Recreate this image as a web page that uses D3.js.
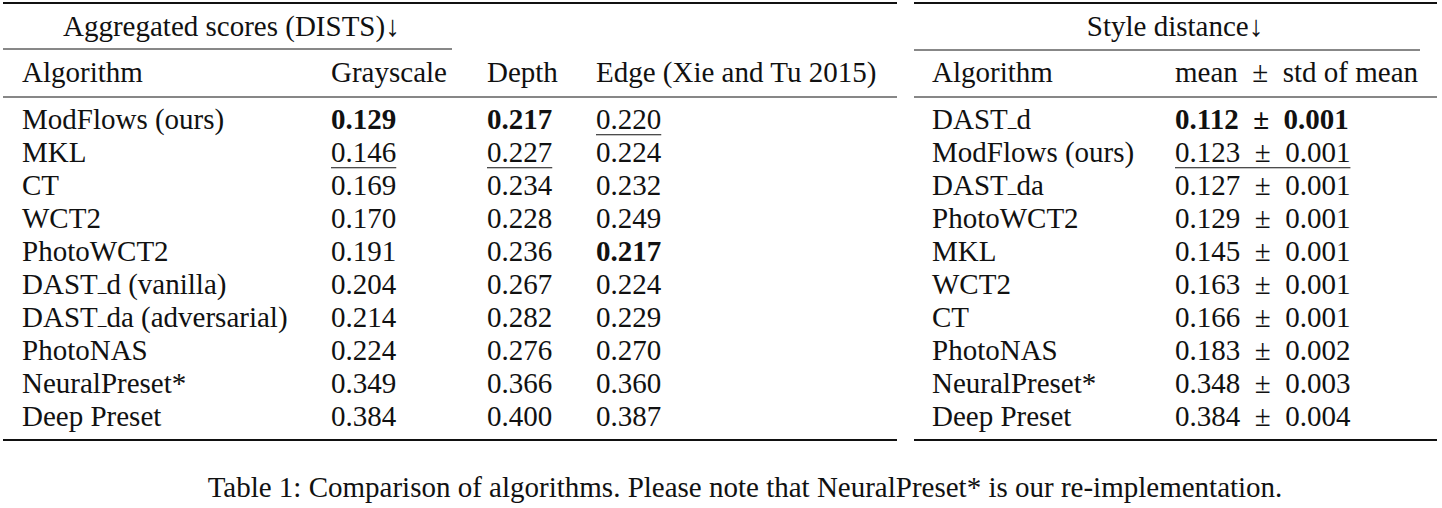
<!DOCTYPE html>
<html><head><meta charset="utf-8">
<script src="https://cdn.jsdelivr.net/npm/d3@7"></script>
<style>body{margin:0;background:#fff}text{font-family:"Liberation Serif","DejaVu Serif",serif;fill:#111}</style>
</head><body><svg id="c" width="1442" height="508"></svg>
<script>
const leftAlgos=["ModFlows (ours)","MKL","CT","WCT2","PhotoWCT2","DAST_d (vanilla)","DAST_da (adversarial)","PhotoNAS","NeuralPreset*","Deep Preset"];
const grayscale=[0.129,0.146,0.169,0.170,0.191,0.204,0.214,0.224,0.349,0.384];
const depth=[0.217,0.227,0.234,0.228,0.236,0.267,0.282,0.276,0.366,0.400];
const edge=[0.220,0.224,0.232,0.249,0.217,0.224,0.229,0.270,0.360,0.387];
const rightAlgos=["DAST_d","ModFlows (ours)","DAST_da","PhotoWCT2","MKL","WCT2","CT","PhotoNAS","NeuralPreset*","Deep Preset"];
const styleMean=[0.112,0.123,0.127,0.129,0.145,0.163,0.166,0.183,0.348,0.384];
const styleStd=[0.001,0.001,0.001,0.001,0.001,0.001,0.001,0.002,0.003,0.004];
const leftHeaders=["Algorithm","Grayscale","Depth","Edge (Xie and Tu 2015)"];
const rightHeaders=["Algorithm","mean\u2002\u00b1\u2002std of mean"];

const svg=d3.select("#c");
const FS=29;
const y=d3.scaleBand().domain(d3.range(10)).range([103,433]);
const base=i=>y(i)+y.bandwidth()*0.78;
const line=(x1,x2,yy,w)=>svg.append("line").attr("x1",x1).attr("x2",x2).attr("y1",yy).attr("y2",yy).attr("stroke","#111").attr("stroke-width",w);
function txt(x,yy,s,bold,anchor){return svg.append("text").attr("x",x).attr("y",yy).attr("font-size",FS).attr("font-weight",bold?"bold":"normal").attr("text-anchor",anchor||"start").text(s);}
function algo(x,yy,s){
  const t=svg.append("text").attr("x",x).attr("y",yy).attr("font-size",FS);
  s.split("_").forEach((p,k)=>{
    if(k>0) t.append("tspan").attr("font-size",FS*0.6).attr("dy",3).text("\u2013");
    t.append("tspan").attr("dy",k>0?-3:0).attr("font-size",FS).text(p);});
}
const fmt=d3.format(".3f");

const lx=[22,331,487,596];
line(3,897,3,2.2); line(3,452,49,1); line(3,897,97,1.2); line(3,897,440,2.2);
txt(63,36,"Aggregated scores (DISTS)\u2193");
leftHeaders.forEach((h,i)=>txt(lx[i],82,h));
const minIdx=a=>a.indexOf(d3.min(a));
const secIdx=a=>{const s=[...a].sort((p,q)=>p-q);return a.indexOf(s.find(v=>v>s[0]));};
[grayscale,depth,edge].forEach((col,c)=>{
  const b=minIdx(col), u=secIdx(col);
  col.forEach((v,i)=>{
    const t=txt(lx[c+1],base(i),fmt(v),i===b);
    if(i===u){const w=t.node().getComputedTextLength();line(lx[c+1],lx[c+1]+w,base(i)+6,1.2);}
  });
});
leftAlgos.forEach((a,i)=>algo(lx[0],base(i),a));

const rx=[932,1175];
line(914,1437,3,2.2); line(914,1420,50,1); line(914,1437,97,1.2); line(914,1437,440,2.2);
txt(1175,36,"Style distance\u2193","","middle");
rightHeaders.forEach((h,i)=>txt(rx[i],82,h));
rightAlgos.forEach((a,i)=>{
  algo(rx[0],base(i),a);
  const t=txt(rx[1],base(i),fmt(styleMean[i])+"\u2002\u00b1\u2002"+fmt(styleStd[i]),i===0);
  if(i===1){const w=t.node().getComputedTextLength();line(rx[1],rx[1]+w,base(i)+6,1.2);}
});

txt(745,497,"Table 1: Comparison of algorithms. Please note that NeuralPreset* is our re-implementation.","","middle");
</script></body></html>
